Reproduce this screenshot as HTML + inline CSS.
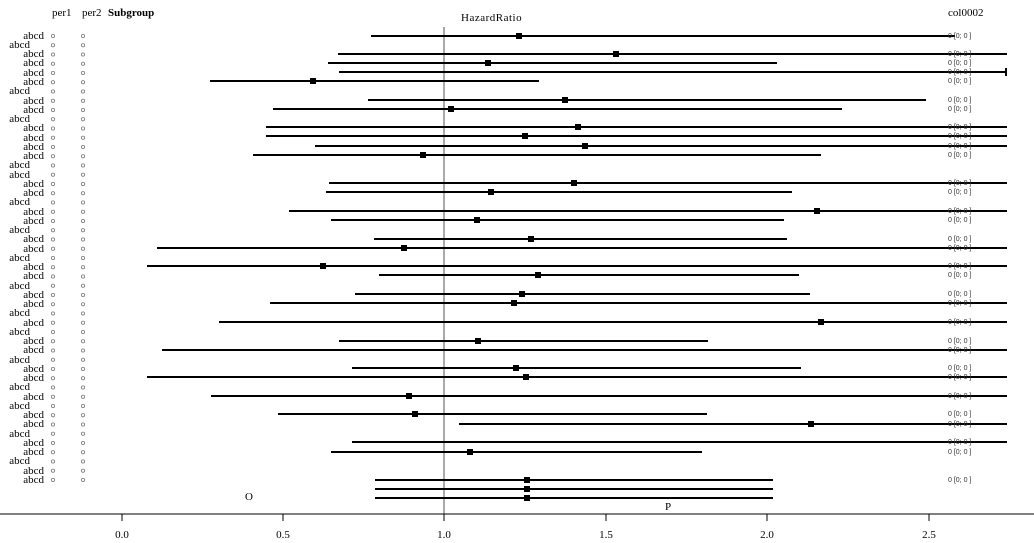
<!DOCTYPE html>
<html><head><meta charset="utf-8"><style>
html,body{margin:0;padding:0;background:#fff;}
svg{display:block;font-family:"Liberation Serif",serif;}
.a{font-size:11px;fill:#000;}
.r{font-size:7px;fill:#333;font-family:"Liberation Sans",sans-serif;}
.l{stroke:#000;stroke-width:2;}
</style></head><body>
<svg width="1034" height="543" viewBox="0 0 1034 543">
<text x="52" y="16" class="a">per1</text>
<text x="82" y="16" class="a">per2</text>
<text x="108" y="16" class="a" font-weight="bold" font-size="12">Subgroup</text>
<text x="461" y="21" class="a" letter-spacing="0.5">HazardRatio</text>
<text x="948" y="16" class="a">col0002</text>
<line x1="444" y1="27" x2="444" y2="514" stroke="#aaa" stroke-width="2"/>
<g text-anchor="end">
<text x="44" y="39" class="a">abcd</text><text x="30" y="48" class="a">abcd</text>
<text x="44" y="57" class="a">abcd</text><text x="44" y="66" class="a">abcd</text>
<text x="44" y="76" class="a">abcd</text><text x="44" y="85" class="a">abcd</text>
<text x="30" y="94" class="a">abcd</text><text x="44" y="104" class="a">abcd</text>
<text x="44" y="113" class="a">abcd</text><text x="30" y="122" class="a">abcd</text>
<text x="44" y="131" class="a">abcd</text><text x="44" y="141" class="a">abcd</text>
<text x="44" y="150" class="a">abcd</text><text x="44" y="159" class="a">abcd</text>
<text x="30" y="168" class="a">abcd</text><text x="30" y="178" class="a">abcd</text>
<text x="44" y="187" class="a">abcd</text><text x="44" y="196" class="a">abcd</text>
<text x="30" y="205" class="a">abcd</text><text x="44" y="215" class="a">abcd</text>
<text x="44" y="224" class="a">abcd</text><text x="30" y="233" class="a">abcd</text>
<text x="44" y="242" class="a">abcd</text><text x="44" y="252" class="a">abcd</text>
<text x="30" y="261" class="a">abcd</text><text x="44" y="270" class="a">abcd</text>
<text x="44" y="279" class="a">abcd</text><text x="30" y="289" class="a">abcd</text>
<text x="44" y="298" class="a">abcd</text><text x="44" y="307" class="a">abcd</text>
<text x="30" y="316" class="a">abcd</text><text x="44" y="326" class="a">abcd</text>
<text x="30" y="335" class="a">abcd</text><text x="44" y="344" class="a">abcd</text>
<text x="44" y="353" class="a">abcd</text><text x="30" y="363" class="a">abcd</text>
<text x="44" y="372" class="a">abcd</text><text x="44" y="381" class="a">abcd</text>
<text x="30" y="390" class="a">abcd</text><text x="44" y="400" class="a">abcd</text>
<text x="30" y="409" class="a">abcd</text><text x="44" y="418" class="a">abcd</text>
<text x="44" y="427" class="a">abcd</text><text x="30" y="437" class="a">abcd</text>
<text x="44" y="446" class="a">abcd</text><text x="44" y="455" class="a">abcd</text>
<text x="30" y="464" class="a">abcd</text><text x="44" y="474" class="a">abcd</text>
<text x="44" y="483" class="a">abcd</text>
</g>
<g fill="none" stroke="#777" stroke-width="0.8">
<circle cx="53" cy="36" r="1.6"/><circle cx="83" cy="36" r="1.6"/>
<circle cx="53" cy="45.25" r="1.6"/><circle cx="83" cy="45.25" r="1.6"/>
<circle cx="53" cy="54.5" r="1.6"/><circle cx="83" cy="54.5" r="1.6"/>
<circle cx="53" cy="63.75" r="1.6"/><circle cx="83" cy="63.75" r="1.6"/>
<circle cx="53" cy="73" r="1.6"/><circle cx="83" cy="73" r="1.6"/>
<circle cx="53" cy="82.25" r="1.6"/><circle cx="83" cy="82.25" r="1.6"/>
<circle cx="53" cy="91.5" r="1.6"/><circle cx="83" cy="91.5" r="1.6"/>
<circle cx="53" cy="100.75" r="1.6"/><circle cx="83" cy="100.75" r="1.6"/>
<circle cx="53" cy="110" r="1.6"/><circle cx="83" cy="110" r="1.6"/>
<circle cx="53" cy="119.25" r="1.6"/><circle cx="83" cy="119.25" r="1.6"/>
<circle cx="53" cy="128.5" r="1.6"/><circle cx="83" cy="128.5" r="1.6"/>
<circle cx="53" cy="137.75" r="1.6"/><circle cx="83" cy="137.75" r="1.6"/>
<circle cx="53" cy="147" r="1.6"/><circle cx="83" cy="147" r="1.6"/>
<circle cx="53" cy="156.25" r="1.6"/><circle cx="83" cy="156.25" r="1.6"/>
<circle cx="53" cy="165.5" r="1.6"/><circle cx="83" cy="165.5" r="1.6"/>
<circle cx="53" cy="174.75" r="1.6"/><circle cx="83" cy="174.75" r="1.6"/>
<circle cx="53" cy="184" r="1.6"/><circle cx="83" cy="184" r="1.6"/>
<circle cx="53" cy="193.25" r="1.6"/><circle cx="83" cy="193.25" r="1.6"/>
<circle cx="53" cy="202.5" r="1.6"/><circle cx="83" cy="202.5" r="1.6"/>
<circle cx="53" cy="211.75" r="1.6"/><circle cx="83" cy="211.75" r="1.6"/>
<circle cx="53" cy="221" r="1.6"/><circle cx="83" cy="221" r="1.6"/>
<circle cx="53" cy="230.25" r="1.6"/><circle cx="83" cy="230.25" r="1.6"/>
<circle cx="53" cy="239.5" r="1.6"/><circle cx="83" cy="239.5" r="1.6"/>
<circle cx="53" cy="248.75" r="1.6"/><circle cx="83" cy="248.75" r="1.6"/>
<circle cx="53" cy="258" r="1.6"/><circle cx="83" cy="258" r="1.6"/>
<circle cx="53" cy="267.25" r="1.6"/><circle cx="83" cy="267.25" r="1.6"/>
<circle cx="53" cy="276.5" r="1.6"/><circle cx="83" cy="276.5" r="1.6"/>
<circle cx="53" cy="285.75" r="1.6"/><circle cx="83" cy="285.75" r="1.6"/>
<circle cx="53" cy="295" r="1.6"/><circle cx="83" cy="295" r="1.6"/>
<circle cx="53" cy="304.25" r="1.6"/><circle cx="83" cy="304.25" r="1.6"/>
<circle cx="53" cy="313.5" r="1.6"/><circle cx="83" cy="313.5" r="1.6"/>
<circle cx="53" cy="322.75" r="1.6"/><circle cx="83" cy="322.75" r="1.6"/>
<circle cx="53" cy="332" r="1.6"/><circle cx="83" cy="332" r="1.6"/>
<circle cx="53" cy="341.25" r="1.6"/><circle cx="83" cy="341.25" r="1.6"/>
<circle cx="53" cy="350.5" r="1.6"/><circle cx="83" cy="350.5" r="1.6"/>
<circle cx="53" cy="359.75" r="1.6"/><circle cx="83" cy="359.75" r="1.6"/>
<circle cx="53" cy="369" r="1.6"/><circle cx="83" cy="369" r="1.6"/>
<circle cx="53" cy="378.25" r="1.6"/><circle cx="83" cy="378.25" r="1.6"/>
<circle cx="53" cy="387.5" r="1.6"/><circle cx="83" cy="387.5" r="1.6"/>
<circle cx="53" cy="396.75" r="1.6"/><circle cx="83" cy="396.75" r="1.6"/>
<circle cx="53" cy="406" r="1.6"/><circle cx="83" cy="406" r="1.6"/>
<circle cx="53" cy="415.25" r="1.6"/><circle cx="83" cy="415.25" r="1.6"/>
<circle cx="53" cy="424.5" r="1.6"/><circle cx="83" cy="424.5" r="1.6"/>
<circle cx="53" cy="433.75" r="1.6"/><circle cx="83" cy="433.75" r="1.6"/>
<circle cx="53" cy="443" r="1.6"/><circle cx="83" cy="443" r="1.6"/>
<circle cx="53" cy="452.25" r="1.6"/><circle cx="83" cy="452.25" r="1.6"/>
<circle cx="53" cy="461.5" r="1.6"/><circle cx="83" cy="461.5" r="1.6"/>
<circle cx="53" cy="470.75" r="1.6"/><circle cx="83" cy="470.75" r="1.6"/>
<circle cx="53" cy="480" r="1.6"/><circle cx="83" cy="480" r="1.6"/>
</g>
<g class="l">
<line x1="371" y1="36" x2="955" y2="36"/>
<line x1="338" y1="54" x2="1007" y2="54"/>
<line x1="328" y1="63" x2="777" y2="63"/>
<line x1="339" y1="72" x2="1007" y2="72"/>
<line x1="210" y1="81" x2="539" y2="81"/>
<line x1="368" y1="100" x2="926" y2="100"/>
<line x1="273" y1="109" x2="842" y2="109"/>
<line x1="266" y1="127" x2="1007" y2="127"/>
<line x1="266" y1="136" x2="1007" y2="136"/>
<line x1="315" y1="146" x2="1007" y2="146"/>
<line x1="253" y1="155" x2="821" y2="155"/>
<line x1="329" y1="183" x2="1007" y2="183"/>
<line x1="326" y1="192" x2="792" y2="192"/>
<line x1="289" y1="211" x2="1007" y2="211"/>
<line x1="331" y1="220" x2="784" y2="220"/>
<line x1="374" y1="239" x2="787" y2="239"/>
<line x1="157" y1="248" x2="1007" y2="248"/>
<line x1="147" y1="266" x2="1007" y2="266"/>
<line x1="379" y1="275" x2="799" y2="275"/>
<line x1="355" y1="294" x2="810" y2="294"/>
<line x1="270" y1="303" x2="1007" y2="303"/>
<line x1="219" y1="322" x2="1007" y2="322"/>
<line x1="339" y1="341" x2="708" y2="341"/>
<line x1="162" y1="350" x2="1007" y2="350"/>
<line x1="352" y1="368" x2="801" y2="368"/>
<line x1="147" y1="377" x2="1007" y2="377"/>
<line x1="211" y1="396" x2="1007" y2="396"/>
<line x1="278" y1="414" x2="707" y2="414"/>
<line x1="459" y1="424" x2="1007" y2="424"/>
<line x1="352" y1="442" x2="1007" y2="442"/>
<line x1="331" y1="452" x2="702" y2="452"/>
<line x1="375" y1="480" x2="773" y2="480"/>
<line x1="375" y1="489" x2="773" y2="489"/>
<line x1="375" y1="498" x2="773" y2="498"/>
<line x1="1006" y1="68" x2="1006" y2="76"/>
</g>
<g fill="#000">
<rect x="516" y="33" width="6" height="6"/>
<rect x="613" y="51" width="6" height="6"/>
<rect x="485" y="60" width="6" height="6"/>
<rect x="310" y="78" width="6" height="6"/>
<rect x="562" y="97" width="6" height="6"/>
<rect x="448" y="106" width="6" height="6"/>
<rect x="575" y="124" width="6" height="6"/>
<rect x="522" y="133" width="6" height="6"/>
<rect x="582" y="143" width="6" height="6"/>
<rect x="420" y="152" width="6" height="6"/>
<rect x="571" y="180" width="6" height="6"/>
<rect x="488" y="189" width="6" height="6"/>
<rect x="814" y="208" width="6" height="6"/>
<rect x="474" y="217" width="6" height="6"/>
<rect x="528" y="236" width="6" height="6"/>
<rect x="401" y="245" width="6" height="6"/>
<rect x="320" y="263" width="6" height="6"/>
<rect x="535" y="272" width="6" height="6"/>
<rect x="519" y="291" width="6" height="6"/>
<rect x="511" y="300" width="6" height="6"/>
<rect x="818" y="319" width="6" height="6"/>
<rect x="475" y="338" width="6" height="6"/>
<rect x="513" y="365" width="6" height="6"/>
<rect x="523" y="374" width="6" height="6"/>
<rect x="406" y="393" width="6" height="6"/>
<rect x="412" y="411" width="6" height="6"/>
<rect x="808" y="421" width="6" height="6"/>
<rect x="467" y="449" width="6" height="6"/>
<rect x="524" y="477" width="6" height="6"/>
<rect x="524" y="486" width="6" height="6"/>
<rect x="524" y="495" width="6" height="6"/>
</g>
<g class="r">
<text x="948" y="38">0 [0; 0 ]</text>
<text x="948" y="56">0 [0; 0 ]</text>
<text x="948" y="65">0 [0; 0 ]</text>
<text x="948" y="74">0 [0; 0 ]</text>
<text x="948" y="83">0 [0; 0 ]</text>
<text x="948" y="102">0 [0; 0 ]</text>
<text x="948" y="111">0 [0; 0 ]</text>
<text x="948" y="129">0 [0; 0 ]</text>
<text x="948" y="138">0 [0; 0 ]</text>
<text x="948" y="148">0 [0; 0 ]</text>
<text x="948" y="157">0 [0; 0 ]</text>
<text x="948" y="185">0 [0; 0 ]</text>
<text x="948" y="194">0 [0; 0 ]</text>
<text x="948" y="213">0 [0; 0 ]</text>
<text x="948" y="222">0 [0; 0 ]</text>
<text x="948" y="241">0 [0; 0 ]</text>
<text x="948" y="250">0 [0; 0 ]</text>
<text x="948" y="268">0 [0; 0 ]</text>
<text x="948" y="277">0 [0; 0 ]</text>
<text x="948" y="296">0 [0; 0 ]</text>
<text x="948" y="305">0 [0; 0 ]</text>
<text x="948" y="324">0 [0; 0 ]</text>
<text x="948" y="343">0 [0; 0 ]</text>
<text x="948" y="352">0 [0; 0 ]</text>
<text x="948" y="370">0 [0; 0 ]</text>
<text x="948" y="379">0 [0; 0 ]</text>
<text x="948" y="398">0 [0; 0 ]</text>
<text x="948" y="416">0 [0; 0 ]</text>
<text x="948" y="426">0 [0; 0 ]</text>
<text x="948" y="444">0 [0; 0 ]</text>
<text x="948" y="454">0 [0; 0 ]</text>
<text x="948" y="482">0 [0; 0 ]</text>
</g>
<text x="245" y="500" class="a">O</text>
<text x="665" y="510" class="a">P</text>
<line x1="0" y1="514" x2="1034" y2="514" stroke="#000" stroke-width="1"/>
<g stroke="#000" stroke-width="1">
<line x1="122" y1="514" x2="122" y2="521"/><line x1="283" y1="514" x2="283" y2="521"/>
<line x1="444" y1="514" x2="444" y2="521"/><line x1="606" y1="514" x2="606" y2="521"/>
<line x1="767" y1="514" x2="767" y2="521"/><line x1="929" y1="514" x2="929" y2="521"/>
</g>
<g class="a" text-anchor="middle" font-size="12">
<text x="122" y="538">0.0</text><text x="283" y="538">0.5</text><text x="444" y="538">1.0</text>
<text x="606" y="538">1.5</text><text x="767" y="538">2.0</text><text x="929" y="538">2.5</text>
</g>
</svg>
</body></html>
